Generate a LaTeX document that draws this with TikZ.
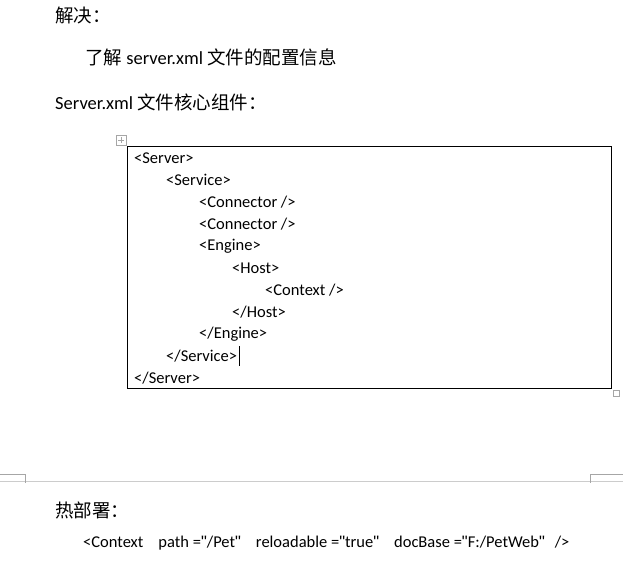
\documentclass[tikz,border=0pt]{standalone}
\usepackage{fontspec}
\setmainfont{Carlito}[Ligatures=TeXOff]
\newfontfamily\cjk{Noto Sans CJK SC}
\newfontfamily\qf{Liberation Sans}
\newcommand\dq{{\qf\symbol{34}}}
\begin{document}
\begin{tikzpicture}[x=1pt,y=-1pt,
  txt/.style={anchor=west,inner sep=0pt,font=\fontsize{16.5}{18}\selectfont},
  big/.style={anchor=west,inner sep=0pt,font=\fontsize{18.5}{20}\selectfont}]
\useasboundingbox (0,0) rectangle (623,562);
\node[big] (t1) at (55,15) {\cjk 解决：};
\node[big] (t2) at (85,57) {{\cjk 了解} server.xml {\cjk 文件的配置信息}};
\node[big] (t3) at (55,102) {Server.xml {\cjk 文件核心组件：}};
\draw[gray!70] (116,135) rectangle (126,145);
\draw[gray!70] (121,137) -- (121,143) (118,140) -- (124,140);
\node[draw=black,line width=0.6pt,minimum width=484pt,minimum height=242pt,inner sep=0pt,anchor=north west] (box) at (127,146) {};
\draw[gray!70] (613,390) rectangle (619,396);
\node[txt] (l1) at (134,158) {<Server>};
\node[txt] (l2) at (166,180) {<Service>};
\node[txt] (l3) at (199,202) {<Connector />};
\node[txt] (l4) at (199,224) {<Connector />};
\node[txt] (l5) at (199,246) {<Engine>};
\node[txt] (l6) at (232,268) {<Host>};
\node[txt] (l7) at (265,290) {<Context />};
\node[txt] (l8) at (232,312) {</Host>};
\node[txt] (l9) at (199,334) {</Engine>};
\node[txt] (l10) at (166,356) {</Service>};
\draw (l10.east) ++(1.5,-10) -- ++(0,20);
\node[txt] (l11) at (134,378) {</Server>};
\draw[gray!40,line width=1pt] (0,481) -- (623,481);
\draw[gray!70] (0,474) -- (25,474) -- (25,483);
\draw[gray!70] (623,474) -- (590,474) -- (590,483);
\node[big] (t4) at (55,510) {\cjk 热部署：};
\node[txt] (t5) at (83,543) {<Context\hspace{15pt}path =\dq/Pet\dq\hspace{15pt}reloadable =\dq true\dq\hspace{15pt}docBase =\dq F:/PetWeb\dq\hspace{10pt}/>};
\end{tikzpicture}
\end{document}
